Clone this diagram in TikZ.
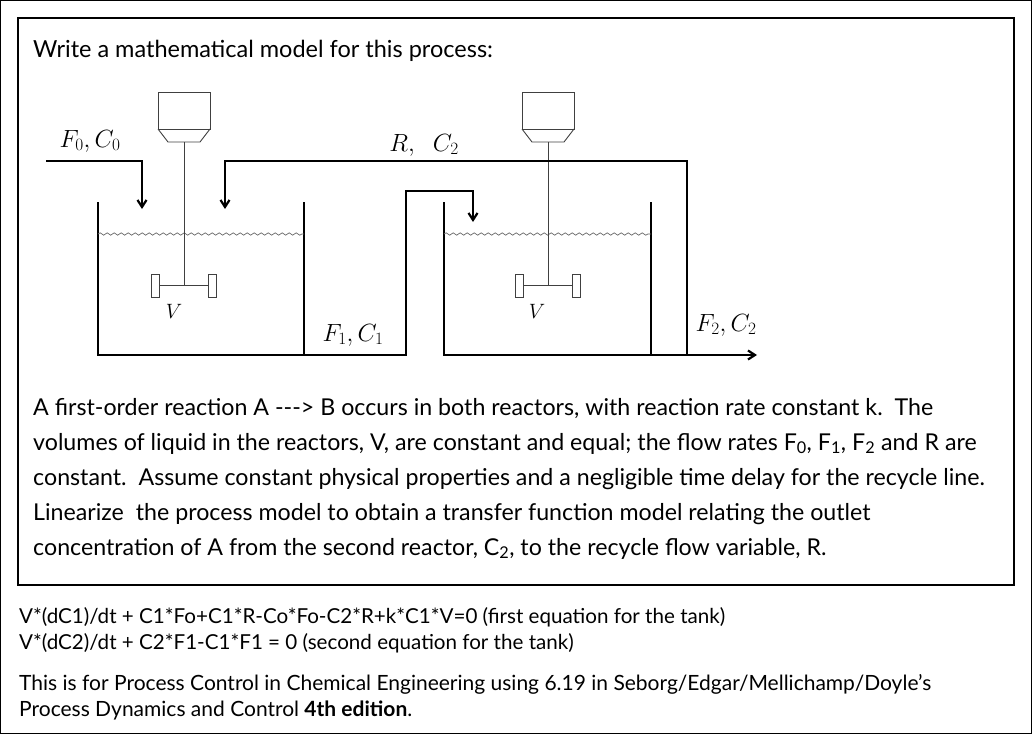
\documentclass[tikz,border=0pt]{standalone}
\usepackage{fontspec}
\setmainfont{Lato}
\usetikzlibrary{decorations.pathmorphing,arrows.meta}
\begin{document}
\begin{tikzpicture}[x=1pt,y=-1pt,
  pipe/.style={line width=2.2pt},
  thin/.style={line width=0.9pt,draw=black!75},
  wave/.style={draw=black!60,line width=0.7pt,decorate,decoration={snake,segment length=7pt,amplitude=1.2pt}},
  arr/.style={-{Straight Barb[length=7pt,width=9pt]}},
  lab/.style={font=\fontsize{27}{30}\selectfont,inner sep=0pt},
  vlab/.style={font=\fontsize{20}{22}\selectfont,inner sep=0pt},
  txt/.style={font=\fontsize{23.2}{26}\selectfont,anchor=base west,inner sep=0pt},
  small/.style={font=\fontsize{20.6}{24}\selectfont,anchor=base west,inner sep=0pt}]
\useasboundingbox (0,0) rectangle (1032,734);
\draw[line width=1pt] (0.5,0.5) rectangle (1031.5,733.5);
\draw[line width=2pt] (18,18) rectangle (1014,585);
\node[txt,font=\fontsize{23.5}{26}\selectfont] (title) at (33,57) {Write a mathematical model for this process:};
% tank 1
\draw[pipe] (98,202) -- (98,355) -- (304,355) -- (304,202);
\draw[wave] (98,234) -- (304,234);
% motor 1
\draw[thin] (158,92) rectangle (210,129);
\draw[thin] (158,129) -- (168,142) -- (200,142) -- (210,129);
\draw[thin] (184,142) -- (184,285);
\draw[thin] (159,285) -- (208,285);
\draw[thin] (151,274) rectangle (159,297);
\draw[thin] (208,274) rectangle (216,297);
\node[vlab] (v1) at (174,311) {$V$};
% tank 2
\draw[pipe] (444,202) -- (444,355) -- (651,355) -- (651,202);
\draw[wave] (444,234) -- (651,234);
\draw[thin] (522,92) rectangle (574,129);
\draw[thin] (522,129) -- (532,142) -- (564,142) -- (574,129);
\draw[thin] (548,142) -- (548,285);
\draw[thin] (523,285) -- (572,285);
\draw[thin] (515,274) rectangle (523,297);
\draw[thin] (572,274) rectangle (580,297);
\node[vlab] (v2) at (537,311) {$V$};
% streams
\draw[pipe,arr] (46,161) -- (142,161) -- (142,209);
\draw[pipe,arr] (651,355) -- (687,355) -- (687,161) -- (225,161) -- (225,209);
\draw[pipe,arr] (304,355) -- (406,355) -- (406,191) -- (473,191) -- (473,222);
\draw[pipe,arr] (687,355) -- (757,355);
\node[lab] (f0) at (90,141) {$F_0, C_0$};
\node[lab] (r) at (424,145) {$R,\ \ C_2$};
\node[lab] (f1) at (353,335) {$F_1, C_1$};
\node[lab] (f2) at (726,325) {$F_2, C_2$};
% text
\node[txt] (t1) at (33,415) {A first-order reaction A {-}{-}{-}> B occurs in both reactors, with reaction rate constant k.\ \ The};
\node[txt] (t2) at (33,450) {volumes of liquid in the reactors, V, are constant and equal; the flow rates F\textsubscript{0}, F\textsubscript{1}, F\textsubscript{2} and R are};
\node[txt] (t3) at (33,485) {constant.\ \ Assume constant physical properties and a negligible time delay for the recycle line.};
\node[txt] (t4) at (33,520) {Linearize\ \ the process model to obtain a transfer function model relating the outlet};
\node[txt] (t5) at (33,555) {concentration of A from the second reactor, C\textsubscript{2}, to the recycle flow variable, R.};
\node[small] (e1) at (19,623) {V*(dC1)/dt + C1*Fo+C1*R-Co*Fo-C2*R+k*C1*V=0 (first equation for the tank)};
\node[small] (e2) at (19,649) {V*(dC2)/dt + C2*F1-C1*F1 = 0 (second equation for the tank)};
\node[small,font=\fontsize{21}{24}\selectfont] (n1) at (19,690) {This is for Process Control in Chemical Engineering using 6.19 in Seborg/Edgar/Mellichamp/Doyle\char"0027 s};
\node[small,font=\fontsize{21}{24}\selectfont] (n2) at (19,716) {Process Dynamics and Control \textbf{4th edition}.};
\end{tikzpicture}
\end{document}
